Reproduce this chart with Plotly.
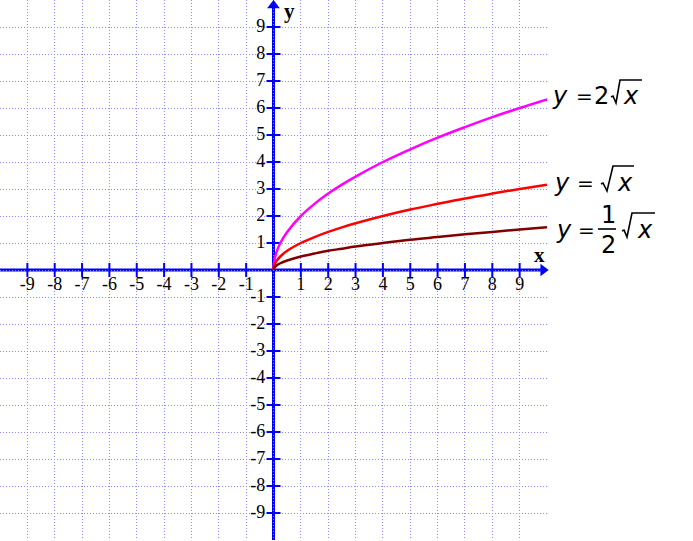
import plotly.graph_objects as go

# ── values ────────────────────────────────────────────────────────────
xs = [0, 0.02, 0.1, 0.25, 0.5, 1, 1.5, 2, 2.5, 3, 4, 5, 6, 7, 8, 9, 10]
y_two = [0, 0.28, 0.63, 1.0, 1.41, 2.0, 2.45, 2.83, 3.16, 3.46, 4.0, 4.47, 4.9, 5.29, 5.66, 6.0, 6.32]
y_one = [0, 0.14, 0.32, 0.5, 0.71, 1.0, 1.22, 1.41, 1.58, 1.73, 2.0, 2.24, 2.45, 2.65, 2.83, 3.0, 3.16]
y_half = [0, 0.07, 0.16, 0.25, 0.35, 0.5, 0.61, 0.71, 0.79, 0.87, 1.0, 1.12, 1.22, 1.32, 1.41, 1.5, 1.58]

ticks = [-9, -8, -7, -6, -5, -4, -3, -2, -1, 1, 2, 3, 4, 5, 6, 7, 8, 9]
tick_text = [str(t) for t in ticks]
grid_vals = list(range(-9, 10))

BLUE = "#0000ff"
SERIF = "Liberation Serif"
SANS = "DejaVu Sans"

W, H = 693, 541
PW, PH = 547, 540  # plot area in pixels


def px(x):  # pixel -> paper, for the labels right of the grid
    return x / PW


def py(y):
    return 1 - y / PH


fig = go.Figure()

# tick marks across the axes
fig.add_trace(go.Scatter(
    x=ticks, y=[0] * len(ticks), mode="markers", hoverinfo="skip",
    marker=dict(symbol="line-ns", size=10, line=dict(color=BLUE, width=2)),
))
fig.add_trace(go.Scatter(
    x=[0] * len(ticks), y=ticks, mode="markers", hoverinfo="skip",
    marker=dict(symbol="line-ew", size=10, line=dict(color=BLUE, width=2)),
))

# arrow heads
fig.add_trace(go.Scatter(
    x=[9.86, 0], y=[0, 9.8], mode="markers", hoverinfo="skip", cliponaxis=False,
    marker=dict(symbol=["triangle-right", "triangle-up"], size=11, color=BLUE),
))

# tick labels
fig.add_trace(go.Scatter(
    x=ticks, y=[-0.56] * len(ticks), mode="text", text=tick_text,
    textposition="middle center", hoverinfo="skip",
    textfont=dict(family=SERIF, size=18, color="black"),
))
fig.add_trace(go.Scatter(
    x=[-0.3] * len(ticks), y=ticks, mode="text", text=tick_text,
    textposition="middle left", hoverinfo="skip",
    textfont=dict(family=SERIF, size=18, color="black"),
))

# the curves
for ys, col in [(y_two, "#ff00ff"), (y_one, "#ff0000"), (y_half, "#800000")]:
    fig.add_trace(go.Scatter(
        x=xs, y=ys, mode="lines", line=dict(color=col, width=2.5, shape="spline"),
        hoverinfo="skip",
    ))

shapes = [
    dict(type="line", x0=-10, x1=9.8, y0=0, y1=0, line=dict(color=BLUE, width=3), layer="below"),
    dict(type="line", x0=0, x1=0, y0=-10.1, y1=9.7, line=dict(color=BLUE, width=3), layer="below"),
]

ann = [
    dict(x=0.6, y=9.6, xref="x", yref="y", text="<b>y</b>", showarrow=False,
         font=dict(family=SERIF, size=21, color="black")),
    dict(x=9.71, y=0.56, xref="x", yref="y", text="<b>x</b>", showarrow=False,
         font=dict(family=SERIF, size=21, color="black")),
]

eq_font = dict(family=SANS, size=24, color="black")
eq_small = dict(family=SANS, size=20, color="black")


def piece(x, y, text, font=eq_font):
    ann.append(dict(x=px(x), y=py(y), xref="paper", yref="paper", xanchor="center",
                    yanchor="middle", showarrow=False, font=font, text=text))


def radical(pts):
    d = "M " + " L ".join(f"{px(a):.5f},{py(b):.5f}" for a, b in pts)
    shapes.append(dict(type="path", xref="paper", yref="paper", path=d,
                       line=dict(color="black", width=1.6)))


# y = 2√x
piece(560, 96, "<i>y</i>")
piece(584, 96, "=", eq_small)
piece(601, 96, "2")
piece(631, 96, "<i>x</i>")
radical([(611, 97), (613, 96), (616, 103), (620, 80), (642, 80)])
# y = √x
piece(562, 183, "<i>y</i>")
piece(585, 183, "=", eq_small)
piece(625, 183, "<i>x</i>")
radical([(601, 184), (603, 183), (607, 191), (613, 166), (634, 166)])
# y = ½√x
piece(564, 230, "<i>y</i>")
piece(586, 230, "=", eq_small)
piece(608, 215, "1")
piece(608, 245, "2")
piece(645, 230, "<i>x</i>")
shapes.append(dict(type="line", xref="paper", yref="paper",
                   x0=px(598), x1=px(616), y0=py(229), y1=py(229),
                   line=dict(color="black", width=1.6)))
radical([(622, 231), (624, 230), (627, 237), (632, 213), (655, 213)])

axis_common = dict(
    range=[-10, 10], tickmode="array", tickvals=grid_vals, showticklabels=False,
    showgrid=True, gridcolor="#8c8cff", gridwidth=1, griddash="1px,2px",
    zeroline=False, showline=False, ticks="", fixedrange=True,
)

fig.update_layout(
    width=W, height=H,
    margin=dict(l=0, r=W - PW, t=0, b=H - PH),
    plot_bgcolor="white", paper_bgcolor="white",
    showlegend=False,
    xaxis=axis_common,
    yaxis=axis_common,
    shapes=shapes,
    annotations=ann,
)

fig.write_html("out.html", config={"displayModeBar": False},
               post_script="document.body.style.margin='0';")
